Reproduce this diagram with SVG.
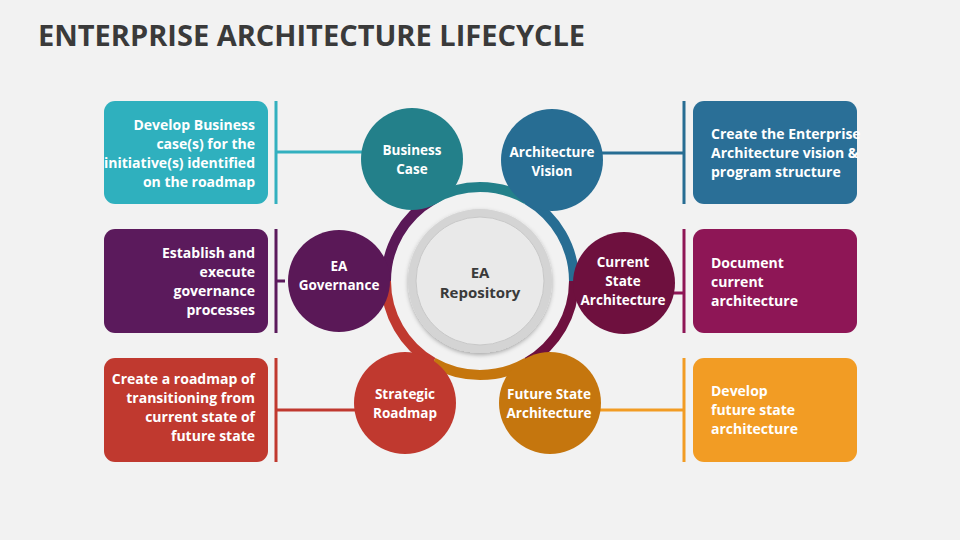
<svg xmlns="http://www.w3.org/2000/svg" width="960" height="540" viewBox="0 0 960 540">
<defs>
<style>
.t{font-family:"Open Sans","Liberation Sans",sans-serif;font-weight:bold;fill:#fff;font-size:14px}
.c{font-family:"Open Sans","Liberation Sans",sans-serif;font-weight:bold;fill:#fff;font-size:13.5px;text-anchor:middle}
.l{stroke-width:3;fill:none}
.a{stroke-width:10;fill:none}
</style>
<filter id="sh" x="-20%" y="-20%" width="140%" height="140%"><feDropShadow dx="0" dy="2" stdDeviation="2" flood-opacity="0.3"/></filter>
</defs>
<rect width="960" height="540" fill="#F2F2F2"/>
<text x="38" y="46" font-family="Open Sans,Liberation Sans,sans-serif" font-weight="bold" font-size="29" fill="#3A3A3A">ENTERPRISE ARCHITECTURE LIFECYCLE</text>
<g id="connectors">
<path class="a" stroke="#23808A" d="M433,199.6 A94,94 0 0 1 527,199.6"/>
<path class="a" stroke="#276D93" d="M527,199.6 A94,94 0 0 1 574,281"/>
<path class="a" stroke="#6E103E" d="M574,281 A94,94 0 0 1 527,362.4"/>
<path class="a" stroke="#C5760E" d="M527,362.4 A94,94 0 0 1 433,362.4"/>
<path class="a" stroke="#C0392F" d="M433,362.4 A94,94 0 0 1 386,281"/>
<path class="a" stroke="#5A1857" d="M386,281 A94,94 0 0 1 433,199.6"/>
<line class="l" stroke="#33B0BF" x1="276" y1="101" x2="276" y2="204"/>
<line class="l" stroke="#33B0BF" x1="276" y1="152" x2="365" y2="152"/>
<line class="l" stroke="#5B1A5C" x1="276" y1="229" x2="276" y2="333"/>
<line class="l" stroke="#5B1A5C" x1="276" y1="281" x2="285" y2="281"/>
<line class="l" stroke="#C0392F" x1="276" y1="358" x2="276" y2="462"/>
<line class="l" stroke="#C0392F" x1="276" y1="410" x2="360" y2="410"/>
<line class="l" stroke="#276D93" x1="684" y1="101" x2="684" y2="204"/>
<line class="l" stroke="#276D93" x1="598" y1="153" x2="684" y2="153"/>
<line class="l" stroke="#8E1656" x1="684" y1="229" x2="684" y2="333"/>
<line class="l" stroke="#8E1656" x1="668" y1="293" x2="684" y2="293"/>
<line class="l" stroke="#F29C24" x1="684" y1="358" x2="684" y2="462"/>
<line class="l" stroke="#F29C24" x1="598" y1="410" x2="684" y2="410"/>
</g>
<g id="repo">
<circle cx="480" cy="281" r="72" fill="#D4D4D4" filter="url(#sh)"/>
<circle cx="480" cy="281" r="64" fill="#E9E9E9" stroke="#C8C8C8" stroke-width="1"/>
<text x="480" y="278" text-anchor="middle" font-family="Open Sans,Liberation Sans,sans-serif" font-weight="bold" font-size="15" fill="#3A3A3A">EA</text>
<text x="480" y="298" text-anchor="middle" font-family="Open Sans,Liberation Sans,sans-serif" font-weight="bold" font-size="15" fill="#3A3A3A">Repository</text>
</g>
<g id="business-case"><circle cx="412" cy="159" r="51" fill="#23808A"/><text class="c" x="412" y="155">Business</text><text class="c" x="412" y="174">Case</text></g>
<g id="architecture-vision"><circle cx="552" cy="160" r="51" fill="#276D93"/><text class="c" x="552" y="157">Architecture</text><text class="c" x="552" y="176">Vision</text></g>
<g id="current-state"><circle cx="624" cy="283" r="51" fill="#6E103E"/><text class="c" x="623" y="267">Current</text><text class="c" x="623" y="286">State</text><text class="c" x="623" y="305">Architecture</text></g>
<g id="future-state"><circle cx="550" cy="403" r="51" fill="#C5760E"/><text class="c" x="549" y="399">Future State</text><text class="c" x="549" y="418">Architecture</text></g>
<g id="strategic-roadmap"><circle cx="405" cy="403" r="51" fill="#C0392F"/><text class="c" x="405" y="399">Strategic</text><text class="c" x="405" y="418">Roadmap</text></g>
<g id="ea-governance"><circle cx="339" cy="281" r="51" fill="#5A1857"/><text class="c" x="339" y="271">EA</text><text class="c" x="339" y="290">Governance</text></g>
<g id="box-business-case"><rect x="104" y="101" width="164" height="103" rx="11" fill="#2FB0BE"/>
<text class="t" text-anchor="end"><tspan x="255" y="130">Develop Business</tspan><tspan x="255" y="149">case(s) for the</tspan><tspan x="255" y="168">initiative(s) identified</tspan><tspan x="255" y="187">on the roadmap</tspan></text></g>
<g id="box-governance"><rect x="104" y="229" width="164" height="104" rx="11" fill="#5B1A5C"/>
<text class="t" text-anchor="end"><tspan x="255" y="258">Establish and</tspan><tspan x="255" y="277">execute</tspan><tspan x="255" y="296">governance</tspan><tspan x="255" y="315">processes</tspan></text></g>
<g id="box-roadmap"><rect x="104" y="358" width="164" height="104" rx="11" fill="#C0392F"/>
<text class="t" text-anchor="end"><tspan x="255" y="384">Create a roadmap of</tspan><tspan x="255" y="403">transitioning from</tspan><tspan x="255" y="422">current state of</tspan><tspan x="255" y="441">future state</tspan></text></g>
<g id="box-vision"><rect x="693" y="101" width="164" height="103" rx="11" fill="#2A6F97"/>
<text class="t"><tspan x="711" y="139">Create the Enterprise</tspan><tspan x="711" y="158">Architecture vision &amp;</tspan><tspan x="711" y="177">program structure</tspan></text></g>
<g id="box-current"><rect x="693" y="229" width="164" height="104" rx="11" fill="#8E1656"/>
<text class="t"><tspan x="711" y="268">Document</tspan><tspan x="711" y="287">current</tspan><tspan x="711" y="306">architecture</tspan></text></g>
<g id="box-future"><rect x="693" y="358" width="164" height="104" rx="11" fill="#F29C24"/>
<text class="t"><tspan x="711" y="396">Develop</tspan><tspan x="711" y="415">future state</tspan><tspan x="711" y="434">architecture</tspan></text></g>
</svg>
